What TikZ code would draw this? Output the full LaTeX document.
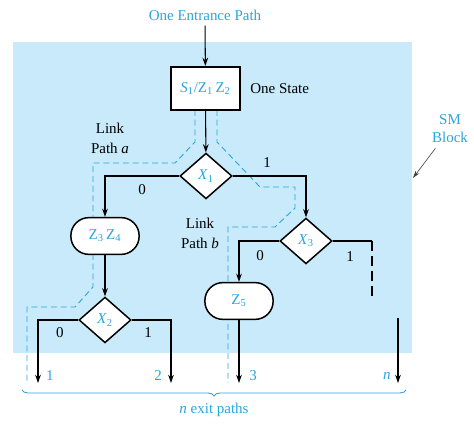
\documentclass[tikz,border=0pt]{standalone}
\usepackage{fontspec}
\setmainfont{Liberation Serif}
\usetikzlibrary{shapes.geometric, arrows.meta, decorations.pathreplacing}
\definecolor{smblue}{RGB}{41, 166, 222}
\definecolor{smfill}{RGB}{200, 234, 250}
\tikzset{
  flow/.style={-{Stealth[length=5.5pt, width=3.8pt]}, line width=0.7pt},
  decision/.style={diamond, draw, line width=1pt, fill=white, inner sep=0pt, minimum width=34.7pt, minimum height=30.5pt, text=smblue},
  condout/.style={rectangle, rounded corners=12pt, draw, line width=1pt, fill=white, minimum width=45.5pt, minimum height=24.5pt, text=smblue},
  linkpath/.style={smblue, line width=0.6pt, dash pattern=on 4pt off 2.5pt},
  exitlbl/.style={text=smblue},
}

\begin{document}
\begin{tikzpicture}[x=0.6667pt, y=-0.6667pt]
  \useasboundingbox (0,0) rectangle (474,428);

  % SM block
  \fill[smfill] (13,42) rectangle (412,353);

  % Link paths
  \draw[linkpath] (195,110) -- (195,142) -- (175,163) -- (93,163) -- (93,287) -- (75,307) -- (27,307) -- (27,383);
  \draw[linkpath] (217,110) -- (217,142) -- (260,187) -- (295,187) -- (295,208) -- (275,227) -- (228,227) -- (228,383);

  % State and decisions
  \node[text=smblue] (entr) at (205,15) {One Entrance Path};
  \node[draw, line width=1.4pt, fill=white, minimum width=46pt, minimum height=28.7pt, text=smblue] (state) at (205.5,88.5) {\textit{S}\textsubscript{1}/Z\textsubscript{1}\,Z\textsubscript{2}};
  \node[anchor=west] (onestate) at (245,89) {One State};
  \node[decision] (x1) at (206,176) {\textit{X}\textsubscript{1}};
  \node[condout] (z34) at (105,236) {Z\textsubscript{3}\,Z\textsubscript{4}};
  \node[decision] (x3) at (306,241) {\textit{X}\textsubscript{3}};
  \node[condout] (z5) at (239,301) {Z\textsubscript{5}};
  \node[decision] (x2) at (105,320) {\textit{X}\textsubscript{2}};

  % Exits
  \coordinate (e1) at (38,383);
  \coordinate (e2) at (171,383);
  \coordinate (e3) at (239,383);
  \coordinate (ns) at (398,318);
  \coordinate (en) at (398,383);
  \coordinate (xr) at (372,297);

  % Connectors
  \draw[flow] (entr) -- (state);
  \draw[flow] (state) -- (x1);
  \draw[flow] (x1.west) -| (z34.north);
  \draw[flow] (x1.east) -| (x3.north);
  \draw[flow] (z34) -- (x2);
  \draw[flow] (x2.west) -| (e1);
  \draw[flow] (x2.east) -| (e2);
  \draw[flow] (x3.west) -| (z5.north);
  \draw[flow] (z5) -- (e3);
  \draw[line width=0.7pt] (x3.east) -- (x3.east -| xr);
  \draw[line width=0.7pt, dash pattern=on 6.5pt off 3.5pt] (x3.east -| xr) -- (xr);
  \draw[flow] (ns) -- (en);

  % Branch labels
  \node (l0a) at (142,190) {0};
  \node (l1a) at (267,163) {1};
  \node (l0b) at (260,256) {0};
  \node (l1b) at (350,257) {1};
  \node (l0c) at (60,333) {0};
  \node (l1c) at (148,333) {1};

  % Exit labels
  \node[exitlbl] (n1) at (50,376) {1};
  \node[exitlbl] (n2) at (158,376) {2};
  \node[exitlbl] (n3) at (253,376) {3};
  \node[exitlbl] (nn) at (387,376) {\textit{n}};

  % Link path labels
  \node[align=center] (linka) at (110,138) {Link\\[1.3pt]Path \textit{a}};
  \node[align=center] (linkb) at (200,233) {Link\\[1.3pt]Path \textit{b}};

  % SM block label
  \node[align=center, text=smblue] (smblk) at (450,129) {SM\\Block};
  \coordinate (blkedge) at (413,178);
  \draw[-{Stealth[length=5pt, width=3pt]}, line width=0.4pt, black!75] (smblk) -- (blkedge);

  % Exit brace
  \draw[smblue, line width=0.6pt, decorate, decoration={brace, mirror, amplitude=4pt}] (22,390) -- (406,390);
  \node[text=smblue] (exits) at (214,410) {\textit{n} exit paths};
\end{tikzpicture}
\end{document}
